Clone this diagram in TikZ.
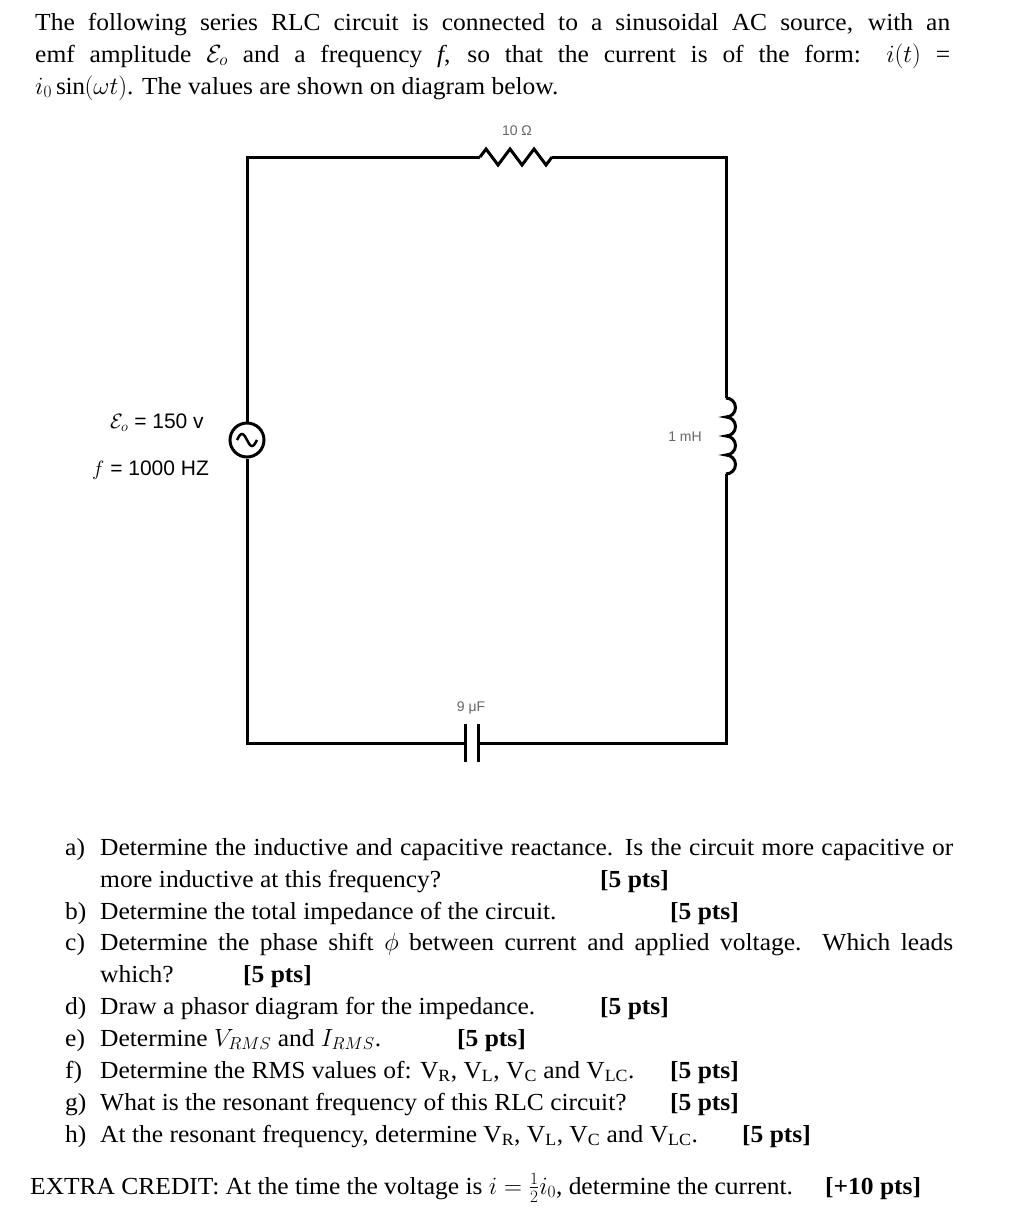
\documentclass[tikz,border=0pt]{standalone}
\usepackage{fontspec}
\setmainfont[FakeStretch=1.04]{Liberation Serif}
\setsansfont{Liberation Sans}
\usepackage{amsmath}
\tikzset{
 txt/.style={anchor=base west,inner sep=0,font=\fontsize{24.5}{28}\selectfont},
 lbl/.style={inner sep=0,font=\sffamily\fontsize{14}{16}\selectfont,text=black!60},
 src/.style={inner sep=0,font=\sffamily\fontsize{21}{24}\selectfont},
 wire/.style={line width=3pt}
}
\newcommand{\jline}[2]{\makebox[#1pt][s]{#2}}
\newcommand{\at}[1]{\makebox[#1pt][l]}
\begin{document}
\begin{tikzpicture}[x=1pt,y=-1pt]
\useasboundingbox (0,0) rectangle (1035,1219);
% header
\node[txt] (t1) at (35,30) {\jline{915}{The following series RLC circuit is connected to a sinusoidal AC source, with an}};
\node[txt] (t2) at (35,62) {\jline{915}{emf amplitude $\mathcal{E}_o$ and a frequency \textit{f}, so that the current is of the form: $i(t)$ =}};
\node[txt] (t3) at (35,94) {$i_0\sin(\omega t)$. The values are shown on diagram below.};
% circuit
\coordinate (tl) at (247,157); \coordinate (tr) at (726,157);
\coordinate (bl) at (247,743); \coordinate (br) at (726,743);
\coordinate (r1) at (480,157); \coordinate (r2) at (552,157);
\coordinate (l1) at (726,398); \coordinate (l2) at (726,474);
\coordinate (c1) at (465,743); \coordinate (c2) at (478,743);
\node[circle,draw,line width=3pt,minimum size=34pt,inner sep=0] (S) at (247,440) {};
\draw[wire] (S.north) -- (tl) -- (r1);
\draw[wire] (r1) -- ++(6,-8) -- ++(12,16) -- ++(12,-16) -- ++(12,16) -- ++(12,-16) -- ++(12,16) -- (r2);
\draw[wire] (r2) -- (tr) -- (l1);
\draw[wire] (l1) arc (-90:90:9.5) arc (-90:90:9.5) arc (-90:90:9.5) arc (-90:90:9.5) -- (l2);
\draw[wire] (l2) -- (br) -- (c2);
\draw[wire] (c1) -- (bl) -- (S.south);
\draw[wire] (c1) ++(0,-19) -- ++(0,38);
\draw[wire] (c2) ++(0,-19) -- ++(0,38);
\begin{scope}[shift={(S.center)}]
\draw[line width=2.5pt] plot[domain=-10:10,smooth,samples=25] (\x,{6*sin(\x*18)});
\end{scope}
\node[lbl] (lr) at (517,131) {10 Ω};
\node[lbl] (ll) at (685,437) {1 mH};
\node[lbl] (lc) at (471,708) {9 μF};
\node[src,anchor=west] (e) at (110,423) {$\mathcal{E}_o$ = 150 v};
\node[src,anchor=west] (f) at (92,470) {$f$ = 1000 HZ};
% questions
\foreach \y/\l/\t in {
 849/a)/{\jline{853}{Determine the inductive and capacitive reactance. Is the circuit more capacitive or}},
 913/b)/{\at{570}{Determine the total impedance of the circuit.}\textbf{[5 pts]}},
 944/c)/{\jline{853}{Determine the phase shift $\phi$ between current and applied voltage. Which leads}},
 1008/d)/{\at{500}{Draw a phasor diagram for the impedance.}\textbf{[5 pts]}},
 1040/e)/{\at{357}{Determine $V_{RMS}$ and $I_{RMS}$.}\textbf{[5 pts]}},
 1072/f)/{\at{570}{Determine the RMS values of: V\textsubscript{R}, V\textsubscript{L}, V\textsubscript{C} and V\textsubscript{LC}.}\textbf{[5 pts]}},
 1104/g)/{\at{570}{What is the resonant frequency of this RLC circuit?}\textbf{[5 pts]}},
 1136/h)/{\at{642}{At the resonant frequency, determine V\textsubscript{R}, V\textsubscript{L}, V\textsubscript{C} and V\textsubscript{LC}.}\textbf{[5 pts]}}}
 {\node[txt] at (65,\y+6) {\l}; \node[txt] at (100,\y+6) {\t};}
\node[txt] (a2) at (100,887) {\at{500}{more inductive at this frequency?}\textbf{[5 pts]}};
\node[txt] (c2t) at (100,982) {\at{143}{which?}\textbf{[5 pts]}};
\node[txt] (ec) at (30,1194) {\at{795}{EXTRA CREDIT: At the time the voltage is $i=\frac{1}{2}i_0$, determine the current.}\textbf{[+10 pts]}};
\end{tikzpicture}
\end{document}
